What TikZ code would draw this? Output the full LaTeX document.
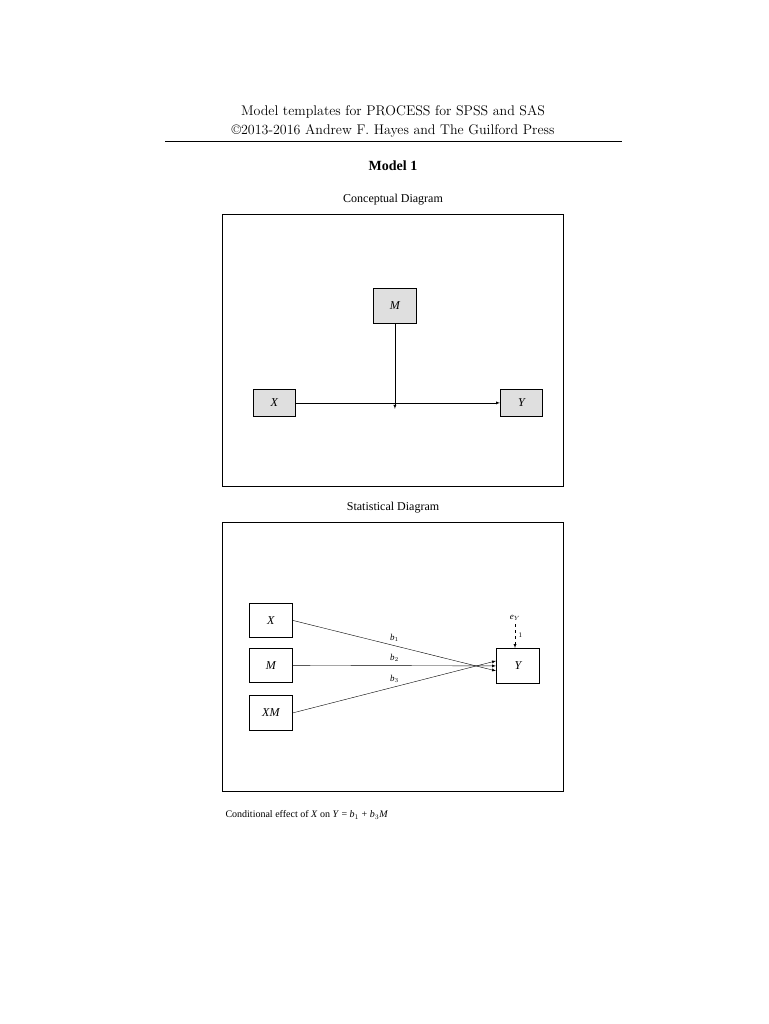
\documentclass[tikz,border=0pt]{standalone}
\usepackage{fontspec}
\newfontfamily\tms{Liberation Serif}
\begin{document}
\begin{tikzpicture}[x=1pt,y=-1pt,
  box/.style={draw,thick,inner sep=0pt,anchor=north west},
  gbox/.style={box,fill=gray!25},
  arr/.style={-latex,thin},
  lab/.style={font=\tms\fontsize{9}{10}\selectfont\itshape},
  bx/.style={font=\tms\fontsize{12}{13}\selectfont\itshape}]
\useasboundingbox (0,0) rectangle (768,1024);
\node[font=\fontsize{14}{15}\selectfont] (h1) at (393,112) {Model templates for PROCESS for SPSS and SAS};
\node[font=\fontsize{14}{15}\selectfont] (h2) at (393,131) {\textcopyright2013-2016 Andrew F. Hayes and The Guilford Press};
\draw[thick] (165,141) -- (622,141);
\node[font=\tms\bfseries\fontsize{14}{15}\selectfont] (t) at (393,166) {Model 1};
\node[font=\tms\fontsize{12}{13}\selectfont] (c) at (393,200) {Conceptual Diagram};
\draw[thick] (222,214) rectangle (563,486);
\node[gbox,minimum width=43pt,minimum height=35pt,bx] (M) at (373,288) {M};
\node[gbox,minimum width=42pt,minimum height=27pt,bx] (X) at (253,389) {X};
\node[gbox,minimum width=42pt,minimum height=27pt,bx] (Y) at (500,389) {Y};
\draw[arr] (X.east) -- (Y.west);
\coordinate (j) at (M.south |- X.east);
\draw[arr] (M.south) -- ([yshift=-6pt]j);
\node[font=\tms\fontsize{12}{13}\selectfont] (s) at (393,508) {Statistical Diagram};
\draw[thick] (222,522) rectangle (563,791);
\node[box,minimum width=43pt,minimum height=34pt,bx] (sX) at (249,603) {X};
\node[box,minimum width=43pt,minimum height=34pt,bx] (sM) at (249,648) {M};
\node[box,minimum width=43pt,minimum height=35pt,bx] (sXM) at (249,695) {XM};
\node[box,minimum width=43pt,minimum height=35pt,bx] (sY) at (496,648) {Y};
\draw[arr] (sX.east) -- ([yshift=-5pt]sY.west) node[lab,pos=0.5,above=1pt] {b$_1$};
\draw[arr] (sM.east) -- (sY.west) node[lab,pos=0.5,above=1pt] {b$_2$};
\draw[arr] (sXM.east) -- ([yshift=5pt]sY.west) node[lab,pos=0.5,above=1pt] {b$_3$};
\node[lab] (e) at (515,618) {e$_Y$};
\draw[arr,dashed] (e.south) -- (sY.north -| e.south) node[pos=0.45,right,font=\tms\fontsize{7}{8}\selectfont] {1};
\node[anchor=west,font=\tms\fontsize{10}{11}\selectfont] (f) at (222,815) {Conditional effect of \textit{X} on \textit{Y} = \textit{b}$_1$ + \textit{b}$_3$\textit{M}};
\end{tikzpicture}
\end{document}
